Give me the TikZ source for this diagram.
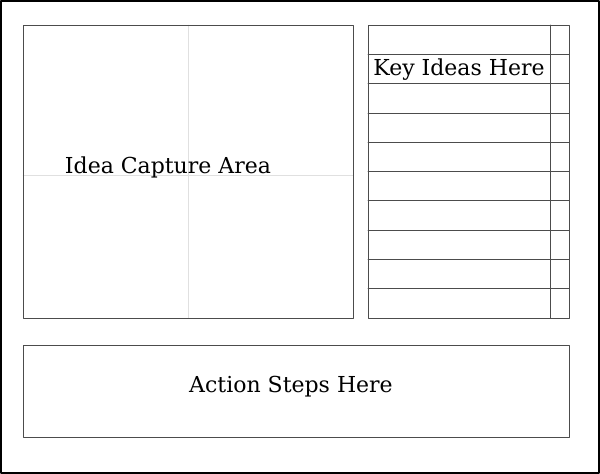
\documentclass[tikz,border=0pt]{standalone}
\usepackage{fontspec}
\setmainfont{DejaVu Serif}
\begin{document}
\begin{tikzpicture}[x=1pt,y=-1pt,line join=round,line cap=round]
\tikzset{box/.style={draw=black!70,line width=0.8pt},
  guide/.style={draw=black!12,line width=0.5pt},
  every node/.style={font=\fontsize{22}{26}\selectfont}}
\useasboundingbox (0,0) rectangle (600,474);
\draw[line width=2pt] (1,1) rectangle (599,473);
% idea capture area
\draw[guide] (188,25)--(188,318);
\draw[guide] (23,175)--(353,175);
\draw[box] (23,25) rectangle (353,318);
\node (idea) at (168,167) {Idea Capture Area};
% key ideas table
\draw[box] (368,25) rectangle (569,318);
\draw[box] (550,25)--(550,318);
\foreach \r in {1,...,9}
  \draw[box] (368,25+29.3*\r)--(569,25+29.3*\r);
\node (keys) at (459,70) {Key Ideas Here};
% action steps
\draw[box] (23,345) rectangle (569,437);
\node (steps) at (291,387) {Action Steps Here};
\end{tikzpicture}
\end{document}
